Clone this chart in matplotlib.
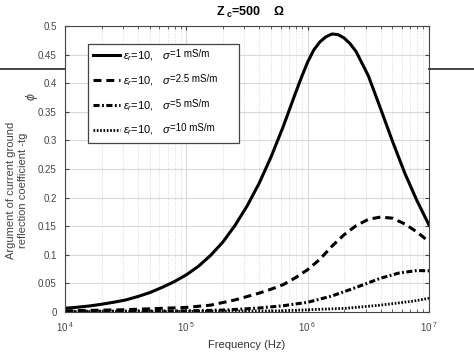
import numpy as np
import matplotlib.pyplot as plt
from matplotlib.lines import Line2D
from matplotlib.transforms import IdentityTransform

plt.rcParams['font.family'] = ['Liberation Sans', 'DejaVu Sans']
plt.rcParams['mathtext.fontset'] = 'custom'
plt.rcParams['mathtext.rm'] = 'Liberation Sans'
plt.rcParams['mathtext.it'] = 'Liberation Sans:italic'
plt.rcParams['mathtext.bf'] = 'Liberation Sans:bold'

# log10 of frequency (Hz) and argument values
logf_1 = [4.0, 4.1, 4.2, 4.3, 4.4, 4.5, 4.6, 4.7, 4.8, 4.9, 5.0, 5.1, 5.2, 5.3, 5.4,
          5.5, 5.6, 5.7, 5.8, 5.9, 5.95, 6.0, 6.05, 6.1, 6.15, 6.2, 6.25, 6.3, 6.35,
          6.4, 6.5, 6.6, 6.7, 6.8, 6.9, 7.0]
phi_1 = [0.0065, 0.0083, 0.0105, 0.0135, 0.017, 0.021, 0.027, 0.034, 0.043, 0.053,
         0.065, 0.080, 0.099, 0.122, 0.151, 0.185, 0.225, 0.272, 0.325, 0.383, 0.411,
         0.437, 0.458, 0.472, 0.481, 0.486, 0.485, 0.479, 0.469, 0.455, 0.413, 0.356,
         0.298, 0.243, 0.195, 0.152]

logf_25 = [4.0, 4.5, 5.0, 5.2, 5.4, 5.6, 5.7, 5.8, 5.9, 6.0, 6.1, 6.2, 6.3, 6.4, 6.5,
           6.6, 6.7, 6.8, 6.9, 7.0]
phi_25 = [0.002, 0.004, 0.008, 0.012, 0.021, 0.033, 0.040, 0.048, 0.060, 0.074, 0.092,
          0.115, 0.135, 0.151, 0.162, 0.166, 0.164, 0.154, 0.140, 0.123]

logf_5 = [4.0, 5.0, 5.33, 5.6, 5.8, 6.0, 6.2, 6.4, 6.6, 6.75, 6.9, 7.0]
phi_5 = [0.001, 0.002, 0.0035, 0.007, 0.011, 0.017, 0.028, 0.043, 0.059, 0.068, 0.0725, 0.072]

logf_10 = [4.0, 5.0, 5.77, 6.32, 6.6, 6.87, 7.0]
phi_10 = [0.0005, 0.001, 0.002, 0.0065, 0.012, 0.019, 0.024]

sigmas = ['1', '2.5', '5', '10']
head = r'$\epsilon_r$=10,   $\sigma$'

fig = plt.figure(figsize=(4.74, 3.55), dpi=100)
ax = fig.add_axes([65/474, 1-312/355, 364/474, 286/355])

ax.plot(10**np.array(logf_1), phi_1, color='black', lw=2.2, ls='-', label=head)
ax.plot(10**np.array(logf_25), phi_25, color='black', lw=2.2, ls=(0, (2.6, 1.6)), label=head)
ax.plot(10**np.array(logf_5), phi_5, color='black', lw=2.2, ls=(0, (2.0, 0.8, 0.6, 0.8)), label=head)
ax.plot(10**np.array(logf_10), phi_10, color='black', lw=2.0, ls=(0, (0.6, 0.6)), label=head)

ax.set_xscale('log')
ax.set_xlim(1e4, 1e7)
ax.set_ylim(0, 0.5)
ax.set_yticks(np.arange(0, 0.51, 0.05))
ax.set_yticklabels(['0', '0.05', '0.1', '0.15', '0.2', '0.25', '0.3', '0.35', '0.4', '0.45', '0.5'])
ax.set_xticks([1e4, 1e5, 1e6, 1e7])
ax.set_xticklabels([r'10$^{\ 4}$', r'10$^{\ 5}$', r'10$^{\ 6}$', r'10$^{\ 7}$'])
ax.tick_params(which='both', direction='in', top=True, right=True, labelsize=7, labelcolor='#444444', color='#444444')
ax.tick_params(which='major', length=3, pad=6)
ax.tick_params(which='minor', length=2)
ax.grid(which='major', color='#d8d8d8', lw=0.8)
ax.grid(which='minor', axis='x', color='#d0d0d0', lw=0.6, ls=':')
for s in ax.spines.values():
    s.set_color('#444444')

ax.set_xlabel('Frequency (Hz)', fontsize=8, color='#333333', labelpad=4)
fig.text(17/474, 1-190/355, 'Argument of current ground\nreflection coefficient -tg',
         rotation=90, ha='center', va='center', fontsize=8, color='#444444', linespacing=1.15)
fig.text(32/474, 1-97/355, r'$\phi$', rotation=90, ha='center', va='center', fontsize=9, color='#444444')

fig.text(250/474, 1-12/355, r'Z$_{\ \mathbf{c}}$=500    $\mathbf{\Omega}$', ha='center', va='center',
         fontsize=9, fontweight='bold')

leg = ax.legend(loc='upper left', bbox_to_anchor=(0.063, 0.55, 0.415, 0.387), mode='expand',
                fontsize=8, handlelength=2.4, labelspacing=1.0, handletextpad=0.3,
                borderpad=0.5, borderaxespad=0, fancybox=False, framealpha=1)
leg.get_frame().set_edgecolor('#444444')
leg.get_frame().set_linewidth(0.9)

# raised conductivity text after each sigma
fig.canvas.draw()
rend = fig.canvas.get_renderer()
for txt, s in zip(leg.get_texts(), sigmas):
    bb = txt.get_window_extent(rend)
    fig.text(bb.x1 - 2, bb.y0 + 6, '=%s mS/m' % s, fontsize=7,
             transform=IdentityTransform(), va='baseline', zorder=10)

# stray page rule crossing the figure
fig.add_artist(Line2D([0, 65/474], [1-69/355, 1-69/355], color='#444444', lw=1.4))
fig.add_artist(Line2D([429/474, 1], [1-69/355, 1-69/355], color='#444444', lw=1.4))

fig.savefig('out.png', dpi=100)
